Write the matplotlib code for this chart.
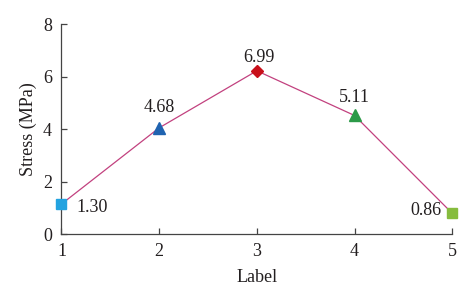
import matplotlib.pyplot as plt

# data
labels = [1, 2, 3, 4, 5]
stress = [1.15, 4.05, 6.22, 4.52, 0.80]
value_text = ['1.30', '4.68', '6.99', '5.11', '0.86']
markers = ['s', '^', 'D', '^', 's']
colors = ['#23a3e0', '#1f63b0', '#c8101a', '#2c9a48', '#86bc3e']

plt.rcParams['font.family'] = ['Liberation Serif', 'DejaVu Serif']
text_col = '#231f20'
fs = 13

fig = plt.figure(figsize=(4.74, 2.99), dpi=100)
ax = fig.add_axes([0.1297, 0.2164, 0.8243, 0.7033])

ax.plot(labels, stress, color='#c2417f', linewidth=0.9, zorder=2)
sizes = {'s': 7, '^': 8.5, 'D': 6}
for x, y, m, c in zip(labels, stress, markers, colors):
    ax.plot(x, y, marker=m, color=c, markersize=sizes[m], linestyle='none',
            clip_on=False, zorder=3)

# value annotations (offsets in points)
offsets = [(11, -2.5, 'left'), (0, 14.4, 'center'), (1.5, 9.6, 'center'),
           (0, 13.2, 'center'), (-8, 1.7, 'right')]
for x, y, t, (dx, dy, ha) in zip(labels, stress, value_text, offsets):
    ax.annotate(t, xy=(x, y), xytext=(dx, dy), textcoords='offset points',
                ha=ha, va='center', fontsize=fs, color=text_col)

ax.set_xlim(1, 5)
ax.set_ylim(0, 8)
ax.set_xticks(labels)
ax.set_yticks([0, 2, 4, 6, 8])
ax.spines['top'].set_visible(False)
ax.spines['right'].set_visible(False)
for s in ('left', 'bottom'):
    ax.spines[s].set_color('#444444')
    ax.spines[s].set_linewidth(0.9)
ax.tick_params(direction='in', length=4, width=0.9, color='#444444',
               labelsize=fs, labelcolor=text_col)
ax.tick_params(axis='y', pad=7)
ax.tick_params(axis='x', pad=6)
ax.set_xlabel('Label', fontsize=fs, color=text_col, labelpad=7)
ax.set_ylabel('Stress (MPa)', fontsize=fs, color=text_col, labelpad=4)

fig.savefig('out.png', dpi=100)
